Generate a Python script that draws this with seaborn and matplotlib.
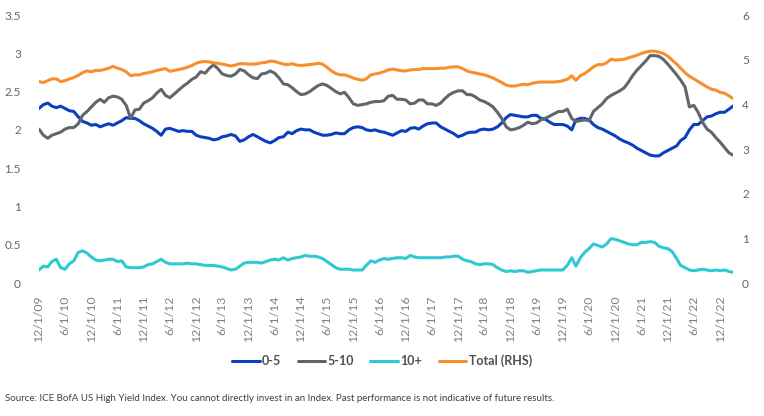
import matplotlib
matplotlib.use('Agg')
import matplotlib.pyplot as plt
import pandas as pd
import seaborn as sns

# monthly, 12/2009 - 3/2023
start_date = '2009-12-01'

dur_0_5 = [
    2.28, 2.33, 2.35, 2.31, 2.29, 2.31, 2.28, 2.25, 2.24, 2.17,
    2.11, 2.09, 2.06, 2.07, 2.04, 2.06, 2.08, 2.06, 2.09, 2.12,
    2.16, 2.15, 2.15, 2.12, 2.08, 2.05, 2.02, 1.98, 1.93, 2.01,
    2.02, 2.00, 1.98, 1.99, 1.98, 1.98, 1.93, 1.91, 1.90, 1.89,
    1.87, 1.88, 1.91, 1.92, 1.94, 1.92, 1.85, 1.87, 1.91, 1.94,
    1.91, 1.88, 1.85, 1.83, 1.86, 1.90, 1.91, 1.97, 1.95, 1.99,
    2.01, 2.00, 2.00, 1.97, 1.95, 1.93, 1.93, 1.94, 1.96, 1.95,
    1.95, 2.00, 2.03, 2.04, 2.03, 2.00, 1.99, 2.00, 1.98, 1.97,
    1.95, 1.93, 1.96, 1.99, 1.98, 2.02, 2.03, 2.01, 2.05, 2.08,
    2.09, 2.09, 2.04, 2.01, 1.98, 1.95, 1.91, 1.93, 1.96, 1.97,
    1.97, 2.00, 2.01, 2.00, 2.01, 2.04, 2.09, 2.16, 2.20, 2.19,
    2.18, 2.17, 2.17, 2.19, 2.19, 2.15, 2.14, 2.10, 2.07, 2.07,
    2.07, 2.05, 2.00, 2.13, 2.15, 2.15, 2.13, 2.07, 2.03, 2.01,
    1.98, 1.95, 1.92, 1.88, 1.85, 1.83, 1.80, 1.76, 1.73, 1.70,
    1.67, 1.66, 1.66, 1.70, 1.73, 1.76, 1.79, 1.86, 1.90, 2.00,
    2.07, 2.07, 2.12, 2.17, 2.18, 2.21, 2.23, 2.23, 2.27, 2.31,
]

dur_5_10 = [
    2.01, 1.93, 1.89, 1.93, 1.95, 1.97, 2.01, 2.03, 2.03, 2.08,
    2.19, 2.24, 2.30, 2.36, 2.40, 2.36, 2.42, 2.44, 2.43, 2.40,
    2.32, 2.15, 2.26, 2.27, 2.35, 2.38, 2.42, 2.48, 2.53, 2.45,
    2.42, 2.47, 2.52, 2.57, 2.61, 2.66, 2.69, 2.76, 2.74, 2.80,
    2.85, 2.80, 2.73, 2.71, 2.70, 2.73, 2.79, 2.77, 2.72, 2.68,
    2.67, 2.73, 2.74, 2.77, 2.74, 2.68, 2.60, 2.59, 2.55, 2.50,
    2.46, 2.47, 2.50, 2.54, 2.58, 2.60, 2.58, 2.54, 2.50, 2.47,
    2.49, 2.42, 2.34, 2.32, 2.33, 2.34, 2.36, 2.37, 2.37, 2.38,
    2.44, 2.45, 2.40, 2.40, 2.39, 2.34, 2.35, 2.39, 2.39, 2.34,
    2.34, 2.32, 2.35, 2.41, 2.46, 2.49, 2.51, 2.51, 2.46, 2.46,
    2.43, 2.39, 2.37, 2.34, 2.30, 2.23, 2.15, 2.04, 2.00, 2.01,
    2.03, 2.06, 2.10, 2.08, 2.09, 2.13, 2.15, 2.18, 2.21, 2.24,
    2.24, 2.27, 2.15, 2.11, 2.12, 2.13, 2.12, 2.24, 2.29, 2.34,
    2.41, 2.45, 2.48, 2.51, 2.55, 2.62, 2.71, 2.78, 2.84, 2.90,
    2.97, 2.97, 2.96, 2.92, 2.86, 2.79, 2.72, 2.65, 2.56, 2.30,
    2.32, 2.23, 2.10, 2.01, 1.97, 1.90, 1.84, 1.77, 1.70, 1.67,
]

dur_10_plus = [
    0.17, 0.22, 0.21, 0.28, 0.31, 0.20, 0.18, 0.25, 0.29, 0.40,
    0.42, 0.39, 0.34, 0.30, 0.29, 0.30, 0.31, 0.31, 0.28, 0.29,
    0.21, 0.20, 0.20, 0.20, 0.21, 0.24, 0.25, 0.28, 0.31, 0.27,
    0.25, 0.25, 0.25, 0.25, 0.26, 0.25, 0.25, 0.24, 0.23, 0.23,
    0.23, 0.22, 0.21, 0.19, 0.17, 0.18, 0.22, 0.26, 0.27, 0.27,
    0.27, 0.26, 0.28, 0.30, 0.31, 0.30, 0.33, 0.30, 0.32, 0.33,
    0.34, 0.36, 0.35, 0.35, 0.34, 0.32, 0.28, 0.24, 0.20, 0.18,
    0.18, 0.18, 0.17, 0.17, 0.17, 0.23, 0.29, 0.27, 0.30, 0.32,
    0.31, 0.32, 0.33, 0.33, 0.32, 0.36, 0.34, 0.33, 0.33, 0.33,
    0.33, 0.33, 0.33, 0.34, 0.34, 0.35, 0.35, 0.31, 0.29, 0.28,
    0.25, 0.24, 0.25, 0.25, 0.24, 0.20, 0.17, 0.15, 0.16, 0.15,
    0.16, 0.16, 0.14, 0.15, 0.16, 0.17, 0.17, 0.17, 0.17, 0.17,
    0.17, 0.23, 0.33, 0.22, 0.33, 0.40, 0.45, 0.51, 0.49, 0.47,
    0.51, 0.58, 0.57, 0.55, 0.53, 0.51, 0.50, 0.50, 0.53, 0.53,
    0.54, 0.53, 0.48, 0.46, 0.45, 0.41, 0.32, 0.23, 0.20, 0.17,
    0.16, 0.17, 0.18, 0.17, 0.16, 0.17, 0.16, 0.17, 0.15, 0.14,
]

total_rhs = [
    4.51, 4.49, 4.53, 4.57, 4.57, 4.51, 4.53, 4.57, 4.60, 4.65,
    4.71, 4.75, 4.73, 4.76, 4.76, 4.78, 4.81, 4.85, 4.81, 4.78,
    4.73, 4.64, 4.66, 4.66, 4.69, 4.71, 4.73, 4.76, 4.78, 4.80,
    4.74, 4.76, 4.78, 4.80, 4.83, 4.87, 4.92, 4.95, 4.96, 4.95,
    4.93, 4.92, 4.90, 4.88, 4.86, 4.88, 4.91, 4.91, 4.90, 4.90,
    4.91, 4.93, 4.94, 4.97, 4.96, 4.93, 4.90, 4.89, 4.91, 4.88,
    4.87, 4.88, 4.89, 4.90, 4.92, 4.90, 4.83, 4.75, 4.69, 4.66,
    4.66, 4.63, 4.59, 4.56, 4.54, 4.57, 4.66, 4.68, 4.70, 4.73,
    4.77, 4.79, 4.77, 4.75, 4.75, 4.77, 4.78, 4.78, 4.80, 4.80,
    4.80, 4.80, 4.81, 4.81, 4.83, 4.84, 4.84, 4.80, 4.75, 4.72,
    4.70, 4.68, 4.66, 4.63, 4.59, 4.54, 4.49, 4.43, 4.41, 4.41,
    4.43, 4.45, 4.44, 4.47, 4.49, 4.50, 4.50, 4.50, 4.50, 4.51,
    4.53, 4.56, 4.64, 4.54, 4.64, 4.69, 4.76, 4.84, 4.89, 4.89,
    4.93, 5.01, 4.99, 5.00, 5.01, 5.04, 5.07, 5.10, 5.14, 5.17,
    5.19, 5.19, 5.17, 5.14, 5.08, 4.99, 4.90, 4.81, 4.71, 4.63,
    4.57, 4.51, 4.45, 4.39, 4.34, 4.32, 4.27, 4.25, 4.19, 4.13,
]

series_names = ['0-5', '5-10', '10+', 'Total (RHS)']
colors = ['#0b3fbf', '#5f666d', '#2ec9d3', '#f7902b']

left_ticks = [0, 0.5, 1, 1.5, 2, 2.5, 3, 3.5]
left_labels = ['0', '0.5', '1', '1.5', '2', '2.5', '3', '3.5']
right_ticks = [0, 1, 2, 3, 4, 5, 6]
right_labels = ['0', '1', '2', '3', '4', '5', '6']

source_note = ('Source: ICE BofA US High Yield Index. You cannot directly invest in an Index. '
               'Past performance is not indicative of future results.')

sns.set_style('white')
plt.rcParams['font.family'] = ['Lato', 'DejaVu Sans']

dates = pd.date_range(start_date, periods=len(dur_0_5), freq='MS')
df = pd.DataFrame({'date': dates, '0-5': dur_0_5, '5-10': dur_5_10,
                   '10+': dur_10_plus, 'Total (RHS)': total_rhs})

tick_dates = pd.date_range(start_date, '2022-12-01', freq='6MS')
tick_labels = [f'{d.month}/1/{d.strftime("%y")}' for d in tick_dates]

fig = plt.figure(figsize=(7.64, 4.16), dpi=100)
ax = fig.add_axes([0.051, 0.3197, 0.9084, 0.6442])
ax2 = ax.twinx()

lw = 2.2
for name, col in zip(series_names[:3], colors[:3]):
    sns.lineplot(data=df, x='date', y=name, ax=ax, color=col, linewidth=lw, label=name, legend=False)
sns.lineplot(data=df, x='date', y='Total (RHS)', ax=ax2, color=colors[3], linewidth=lw,
             label='Total (RHS)', legend=False)

ax.set_xlim(dates[0], dates[-1])
ax.set_ylim(0, 3.5)
ax2.set_ylim(0, 6)
ax.set_yticks(left_ticks)
ax.set_yticklabels(left_labels)
ax2.set_yticks(right_ticks)
ax2.set_yticklabels(right_labels)
ax.set_xticks(tick_dates)
ax.set_xticklabels(tick_labels, rotation=90)
ax.set_xlabel('')
ax.set_ylabel('')
ax2.set_ylabel('')

for a in (ax, ax2):
    for s in a.spines.values():
        s.set_visible(False)
    a.grid(False)
ax.tick_params(axis='y', length=0, pad=13, labelsize=8.5, labelcolor='#666666')
ax2.tick_params(axis='y', length=0, pad=6.5, labelsize=8.5, labelcolor='#666666')
ax.tick_params(axis='x', length=0, pad=9, labelsize=8.8, labelcolor='#808080')

h1, l1 = ax.get_legend_handles_labels()
h2, l2 = ax2.get_legend_handles_labels()
fig.legend(h1 + h2, l1 + l2, loc='center', bbox_to_anchor=(0.5, 0.132), ncol=4,
           frameon=False, handlelength=2.2, handletextpad=0.2, columnspacing=1.3,
           prop={'family': ['Lato', 'DejaVu Sans'], 'weight': 'bold', 'size': 9},
           labelcolor='#505050')

fig.text(0.007, 0.043, source_note, ha='left', va='center', fontsize=7.0, color='#404040')

fig.savefig('out.png', dpi=100)
